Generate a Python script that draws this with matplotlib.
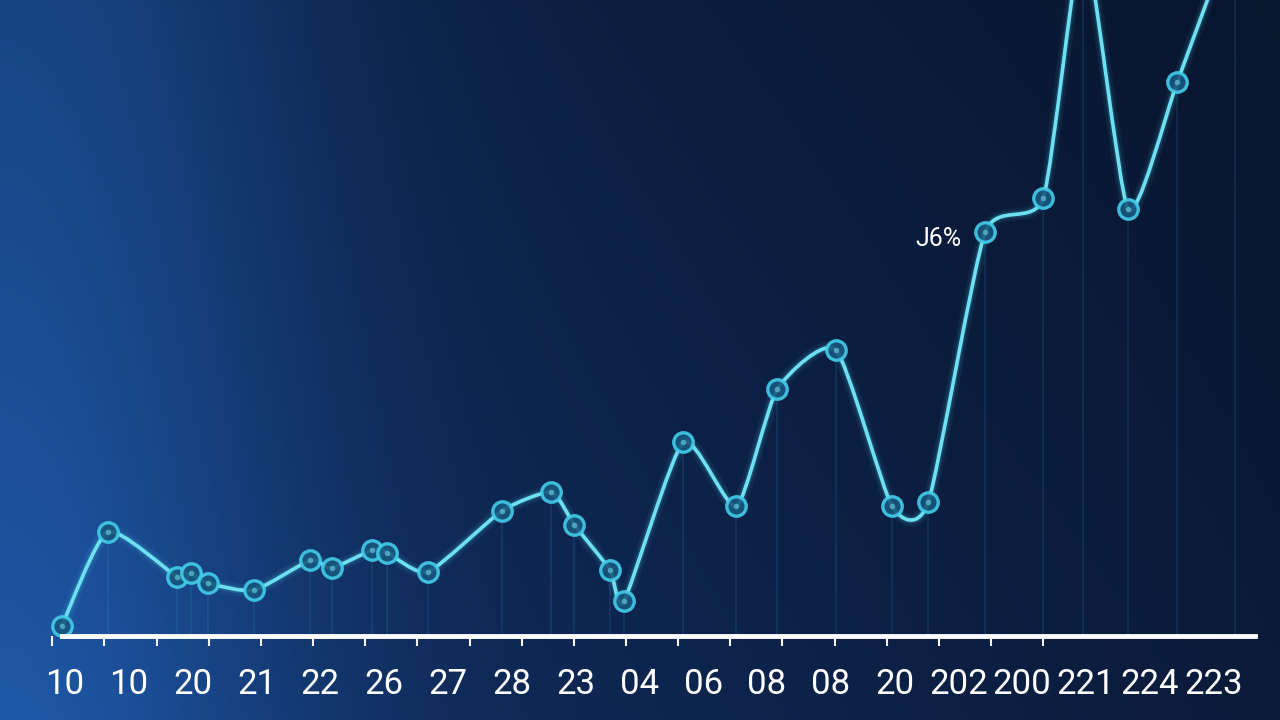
""" Smoothed growth line on a dark blue gradient """

import numpy as np
import matplotlib.pyplot as plt
from matplotlib.path import Path
from matplotlib.patches import PathPatch

# values (x in label slots, y in % of plot height)
x_vals = [-0.05, 0.67, 1.76, 1.97, 2.24, 2.96, 3.84, 4.18, 4.81, 5.05,
          5.69, 6.85, 7.62, 7.98, 8.54, 8.76, 9.69, 10.52, 11.16, 12.08,
          12.96, 13.53, 14.42, 15.33, 15.96, 16.66, 17.43, 18.34]
y_vals = [1.6, 16.4, 9.3, 9.9, 8.3, 7.2, 11.9, 10.7, 13.5, 13.1,
          10.1, 19.7, 22.6, 17.5, 10.4, 5.5, 30.5, 20.4, 38.8, 45.0,
          20.4, 21.1, 63.5, 68.9, 109.0, 67.1, 87.1, 112.0]
tick_labels = ["10", "10", "20", "21", "22", "26", "27", "28", "23", "04",
               "06", "08", "08", "20", "202", "200", "221", "224", "223"]
note_text = "J6%"

fig = plt.figure(figsize=(12.8, 7.2), dpi=100)
ax = fig.add_axes([0, 0, 1, 1])
ax.set_xlim(-1.02, 19.04)
ax.set_ylim(-13.2, 100)

# background gradient: brighter blue on the left, near black-navy on the right
gx = np.linspace(0, 1, 400)
gy = np.linspace(0, 1, 200)
GX, GY = np.meshgrid(gx, gy)
left = np.array([0x1c, 0x52, 0x9c]) / 255
mid = np.array([0x10, 0x2e, 0x60]) / 255
right = np.array([0x0a, 0x19, 0x36]) / 255
t = GX[..., None]
w_left = np.exp(-(t / 0.22) ** 2)
base = mid * (1 - t) + right * t
img = base * (1 - w_left) + left * w_left
shade = (0.84 + 0.22 * (1 - GY))[..., None]
img = np.clip(img * shade, 0, 1)
ax.imshow(img, extent=[0, 1, 0, 1], transform=ax.transAxes, origin="lower",
          aspect="auto", zorder=0)

# faint drop lines under each point
ax.vlines(x_vals, 0, np.minimum(y_vals, 100), color="#3a9fd6", alpha=0.16,
          lw=1.2, zorder=1)

# smooth curve through the points (low-tension Catmull-Rom as cubic Bezier)
pts = np.column_stack([x_vals, y_vals])
verts = [pts[0]]
codes = [Path.MOVETO]
n = len(pts)
k = 10.0
for i in range(n - 1):
    p0 = pts[max(i - 1, 0)]
    p1 = pts[i]
    p2 = pts[i + 1]
    p3 = pts[min(i + 2, n - 1)]
    verts += [p1 + (p2 - p0) / k, p2 - (p3 - p1) / k, p2]
    codes += [Path.CURVE4] * 3
curve = Path(verts, codes)
for lw, a in [(9, 0.07), (5, 0.16)]:
    ax.add_patch(PathPatch(curve, fill=False, lw=lw, ec="#4fd6f0", alpha=a,
                           zorder=2))
ax.add_patch(PathPatch(curve, fill=False, lw=2.6, ec="#6ee0f2", zorder=3,
                       capstyle="round"))

# ring markers
ax.plot(x_vals, y_vals, ls="none", marker="o", ms=14, mfc="#17557c",
        mec="#43cdea", mew=2.4, zorder=4, alpha=0.9)
ax.plot(x_vals, y_vals, ls="none", marker="o", ms=4, mfc="#7fe6f6",
        mec="none", zorder=5, alpha=0.5)

ax.text(13.68, 62.5, note_text, color="white", fontsize=18, ha="center",
        va="center", family="Roboto", zorder=5)

# axis
for s in ["top", "right", "left"]:
    ax.spines[s].set_visible(False)
ax.spines["bottom"].set_position(("data", 0))
ax.spines["bottom"].set_bounds(-0.05, 18.65)
ax.spines["bottom"].set_color("white")
ax.spines["bottom"].set_linewidth(3.5)
ax.spines["bottom"].set_zorder(6)
ax.set_yticks([])
ax.set_xticks(range(len(tick_labels)), tick_labels)
ax.set_xticks(np.linspace(-0.2, 15.33, 20), minor=True)
ax.tick_params(axis="x", which="major", length=0, pad=23, labelsize=25,
               labelcolor="white")
ax.tick_params(axis="x", which="minor", length=7, width=1.5, color="white",
               direction="out")
for lab in ax.get_xticklabels():
    lab.set_family("Roboto")

fig.savefig("out.png", dpi=100)
